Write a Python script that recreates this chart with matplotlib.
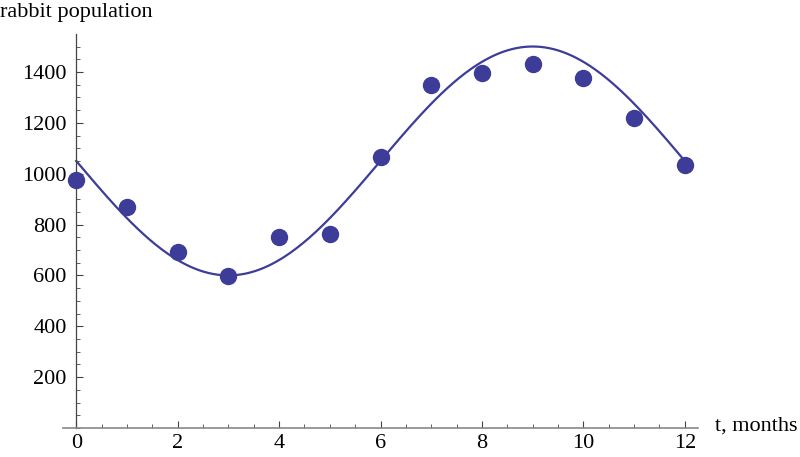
import matplotlib
matplotlib.use("Agg")
import matplotlib.pyplot as plt
import numpy as np
from matplotlib.ticker import MultipleLocator

# monthly rabbit counts
months = [0, 1, 2, 3, 4, 5, 6, 7, 8, 9, 10, 11, 12]
rabbits = [974, 868, 691, 597, 750, 763, 1067, 1349, 1396, 1431, 1376, 1220, 1035]

# sinusoidal model drawn over the data: P(t) = mean - amp * sin(2 pi t / period)
model_mean = 1050
model_amp = 450
model_period = 12

plt.rcParams['font.family'] = ['Liberation Serif', 'DejaVu Serif']
plt.rcParams['font.size'] = 16

t = np.array(months, dtype=float)
p = np.array(rabbits, dtype=float)

tt = np.linspace(0, 12, 400)
fit = model_mean - model_amp * np.sin(2 * np.pi * tt / model_period)

col = '#3d3d99'
fig = plt.figure(figsize=(8, 4.57), dpi=100)
ax = fig.add_axes([0.0788, 0.0635, 0.7937, 0.862])

ax.plot(tt, fit, color=col, lw=1.6, clip_on=False)
ax.plot(t, p, 'o', color=col, ms=11.5, clip_on=False, zorder=3)

ax.set_xlim(-0.26, 12.26)
ax.set_ylim(0, 1549)

for s in ['top', 'right']:
    ax.spines[s].set_visible(False)
ax.spines['left'].set_position(('data', 0))
ax.spines['bottom'].set_position(('data', 0))
ax.spines['left'].set_color('#444444')
ax.spines['bottom'].set_color('#888888')
ax.spines['bottom'].set_linewidth(1.2)
ax.spines['left'].set_linewidth(0.9)

ax.xaxis.set_major_locator(MultipleLocator(2))
ax.xaxis.set_minor_locator(MultipleLocator(0.5))
ax.yaxis.set_minor_locator(MultipleLocator(50))
ax.set_yticks([200, 400, 600, 800, 1000, 1200, 1400])
ax.tick_params(which='major', direction='in', length=5, width=0.8, colors='#444444',
               labelcolor='black', labelsize=16)
ax.tick_params(which='minor', direction='in', length=3, width=0.6, colors='#444444')
ax.tick_params(axis='y', pad=7)
ax.tick_params(axis='x', pad=4)

fig.text(0.0, 0.972, 'rabbit population', ha='left', va='center', fontsize=16)
fig.text(0.894, 0.068, 't, months', ha='left', va='center', fontsize=16)

fig.savefig('out.png', dpi=100)
